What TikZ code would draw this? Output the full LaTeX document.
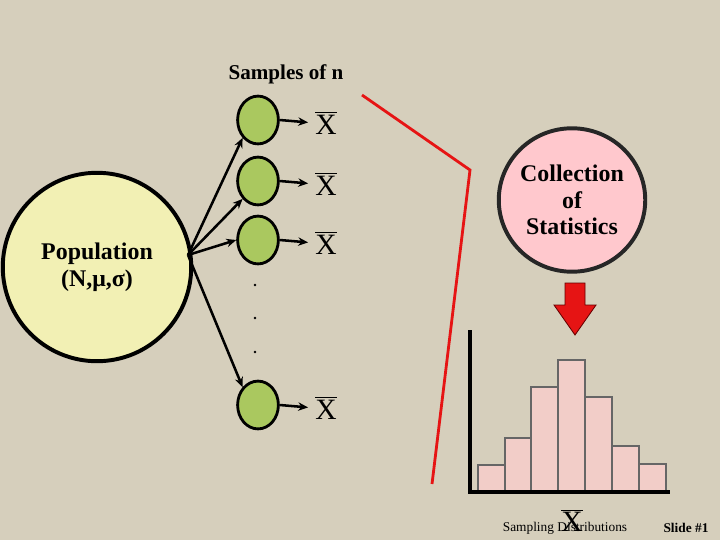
\documentclass[tikz,border=0pt]{standalone}
\usepackage{fontspec}
\setmainfont{Liberation Serif}
\usetikzlibrary{arrows.meta,shapes.geometric}
\definecolor{bg}{RGB}{214,207,188}
\definecolor{popfill}{RGB}{242,240,180}
\definecolor{smpfill}{RGB}{170,200,95}
\definecolor{colfill}{RGB}{255,200,205}
\definecolor{barfill}{RGB}{242,205,200}
\definecolor{redl}{RGB}{230,20,20}
\newcommand{\xbar}{$\overline{\hbox{X}}$}
\tikzset{
 big/.style={ellipse,draw=black,line width=2.8pt,inner sep=0pt,font=\bfseries\fontsize{17}{19}\selectfont,align=center},
 smp/.style={ellipse,draw=black,line width=2pt,fill=smpfill,minimum width=29pt,minimum height=34pt,inner sep=0pt},
 xb/.style={font=\fontsize{21}{22}\selectfont,inner sep=0pt},
 arr/.style={line width=1.8pt,-{Stealth[length=7pt,width=6pt]}},
 bar/.style={draw=gray!80!black,fill=barfill,line width=1pt}
}
\begin{document}
\begin{tikzpicture}[x=0.025cm,y=-0.025cm]
\fill[bg] (0,0) rectangle (720,540);
\useasboundingbox (0,0) rectangle (720,540);
\node[big,fill=popfill,minimum width=134pt,minimum height=134pt] (pop) at (97,267) {Population\\(N,μ,σ)};
\node[big,fill=colfill,minimum width=90pt,minimum height=102pt,draw=black!85] (col) at (572,200) {Collection\\of\\Statistics};
\node[font=\bfseries\fontsize{15}{17}\selectfont] (samp) at (286,74) {Samples of n};
\foreach \n/\y in {a/120,b/181,c/240,d/405}{
 \node[smp] (s\n) at (258,\y) {};
 \node[xb] (x\n) at (326,\y+3) {\xbar};
 \draw[arr,shorten >=5pt] (s\n.east) -- (x\n.west);
}
\coordinate (p0) at (188,255);
\draw[arr] (p0) -- (sa.south west);
\draw[arr] (p0) -- (sb.south west);
\draw[arr] (p0) -- (sc.west);
\draw[arr] (p0) -- (sd.north west);
\foreach \y in {285,318,352} \fill (255,\y) circle (1.3);
\coordinate (r1) at (362,95);
\coordinate (r2) at (470,170);
\coordinate (r3) at (432,484);
\draw[redl,line width=2pt] (r1) -- (r2) -- (r3);
\fill[redl,draw=black!60!red,line width=0.6pt] (565,283) -- (585,283) -- (585,305) -- (596,305) -- (575,335) -- (554,305) -- (565,305) -- cycle;
\foreach \a/\t in {478/465,505/438,531/387,558/360,585/397,612/446,639/464}
 \draw[bar] (\a,492) rectangle (\a+27,\t);
\draw[line width=2.2pt] (470,330) -- (470,492) -- (670,492);
\node[xb] (hx) at (572,520) {\xbar};
\node[font=\fontsize{9.5}{10}\selectfont] (sd2) at (565,528) {Sampling Distributions};
\node[font=\bfseries\fontsize{9.5}{10}\selectfont] (sl) at (686,528) {Slide \#1};
\end{tikzpicture}
\end{document}
